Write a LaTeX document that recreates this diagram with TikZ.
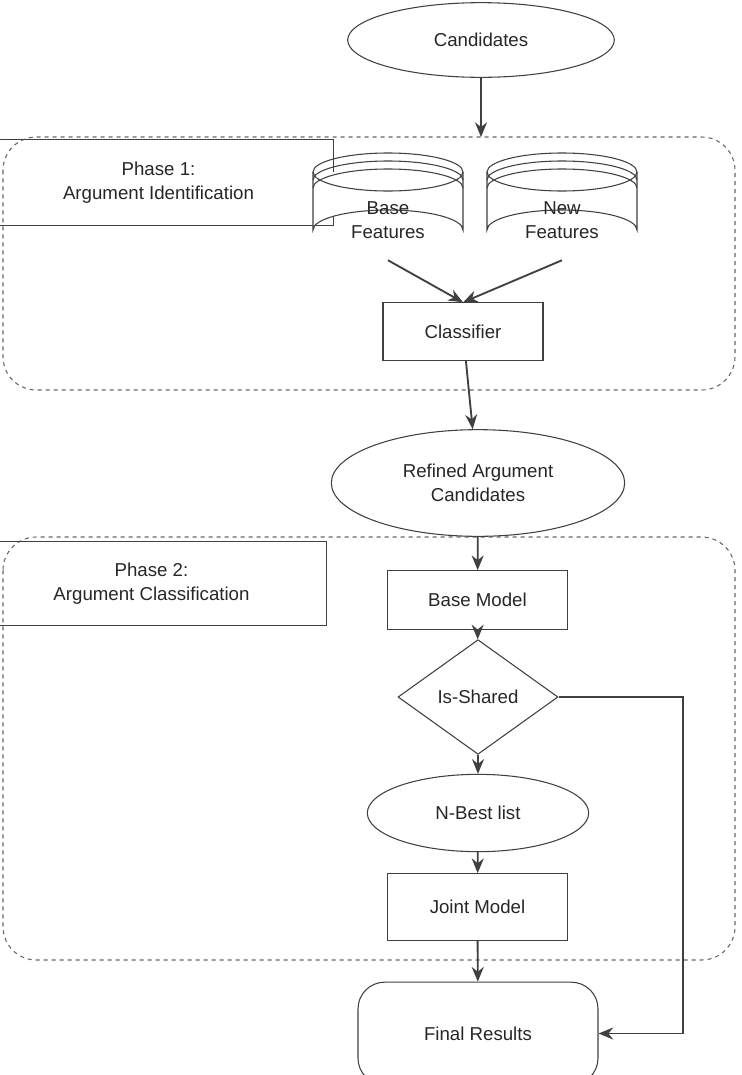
\documentclass[tikz,border=0pt]{standalone}
\usepackage{fontspec}
\setmainfont{Liberation Sans}
\usetikzlibrary{shapes.geometric,arrows.meta}

\begin{document}
\begin{tikzpicture}[x=0.75pt,y=-0.75pt,
  every node/.style={font=\fontsize{14}{18}\selectfont,align=center,text=black!85},
  box/.style={draw=black!75,thick,inner sep=0pt},
  oval/.style={draw=black!75,thick,ellipse,inner sep=0pt},
  phase/.style={draw=black!60,thick,dashed,rounded corners=25},
  link/.style={draw=black!75,line width=1.4pt,-{Stealth[length=11pt,width=9pt]}}]
\useasboundingbox (0,0) rectangle (742,1075);
% phases
\draw[phase] (3,137) rectangle (735,390);
\draw[phase] (3,537) rectangle (735,960);
\node[box,minimum width=263,minimum height=65] (ph1) at (158.5,182.5) {Phase 1:\\Argument Identification};
\node[box,minimum width=263,minimum height=63] (ph2) at (151.5,583.5) {Phase 2:\\Argument Classification};
% nodes
\node[oval,minimum width=200,minimum height=56] (cand) at (481,40) {Candidates};
\foreach \nm/\cx/\lbl in {base/388/Base, new/562/New}{
  \draw[black!75,thick,fill=white] (\cx-75,172) -- (\cx-75,230) arc[start angle=180,end angle=360,x radius=75,y radius=20]
    -- (\cx+75,172);
  \draw[black!75,thick] (\cx,172) ellipse[x radius=75,y radius=19];
  \draw[black!75,thick] (\cx-75,180) arc[start angle=180,end angle=360,x radius=75,y radius=19];
  \draw[black!75,thick] (\cx-75,188) arc[start angle=180,end angle=360,x radius=75,y radius=19];
  \node[minimum width=150,minimum height=60] (\nm) at (\cx,220) {\lbl\\Features};
}
\node[box,minimum width=120,minimum height=43] (clf) at (463,331.5) {Classifier};
\node[oval,minimum width=220,minimum height=80] (ref) at (478,483) {Refined Argument\\Candidates};
\node[box,minimum width=135,minimum height=44] (bm) at (477.5,600) {Base Model};
\node[box,diamond,minimum width=120,minimum height=86] (shr) at (478,697) {};
\node at (shr) {Is-Shared};
\node[oval,minimum width=166,minimum height=58] (nb) at (478,813) {N-Best list};
\node[box,minimum width=135,minimum height=50] (jm) at (477.5,907) {Joint Model};
\node[box,rounded corners=20,minimum width=180,minimum height=77] (fin) at (478,1033.5) {Final Results};
% connectors
\draw[link] (cand) -- (481,137);
\draw[link] (base.south) -- (clf.north);
\draw[link] (new.south) -- (clf.north);
\draw[link] (clf) -- (ref);
\draw[link] (ref) -- (bm);
\draw[link] (bm) -- (shr);
\draw[link] (shr) -- (nb);
\draw[link] (nb) -- (jm);
\draw[link] (jm) -- (fin);
\draw[link] (shr.east) -- (683,697) -- (683,1033.5) -- (fin.east);
\end{tikzpicture}
\end{document}
